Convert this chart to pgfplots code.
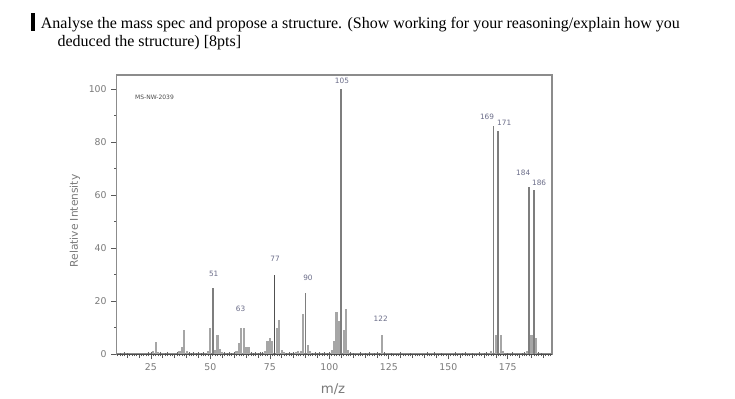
\documentclass[border=0pt]{standalone}
\usepackage{fontspec}
\setmainfont{Liberation Serif}
\newfontfamily\chartfont{DejaVu Sans}
\usepackage{pgfplots}
\usepackage{pgfplotstable}
\pgfplotsset{compat=1.18}
\definecolor{framegray}{HTML}{8C8C8C}
\definecolor{txtgray}{HTML}{7A7A7A}
\definecolor{peakgray}{HTML}{7E7E7E}
\definecolor{darkpeak}{HTML}{505050}
\definecolor{lightpeak}{HTML}{A6A6A6}
\definecolor{lblcol}{HTML}{6A6C88}

\pgfplotstableread{
mz int
51 25
90 23
105 100
169 86
171 84
184 63
186 62
}\mainpeaks

\pgfplotstableread{
mz int
77 30
}\darkpeaks

\pgfplotstableread{
mz int
26 1.0
27 4.5
28 0.8
37 1.2
38 2.5
39 9
40 1
49 1
50 10
52 1.5
53 7
54 2
55 0.8
61 1.2
62 4
63 10
64 10
65 2.5
66 2.5
73 1.2
74 5
75 6
76 5
78 10
79 13
80 1.5
81 0.8
86 0.8
87 1
88 1
89 15
91 3.5
92 1.2
101 1.5
102 5
103 16
104 12.5
106 9
107 17
108 1.5
122 7
168 1.0
170 7
172 7
173 1
183 1.0
185 7
187 6
}\minorpeaks

\pgfplotstableread{
mz int
12 0.5
14 0.6
15 0.5
24 0.6
25 0.7
29 0.6
31 0.5
32 0.6
36 0.7
41 0.6
42 0.5
43 0.7
44 0.5
45 0.6
46 0.5
47 0.6
56 0.6
57 0.5
58 0.6
59 0.5
60 0.7
67 0.6
68 0.5
69 0.6
70 0.5
71 0.6
72 0.7
82 0.5
83 0.6
84 0.5
85 0.6
93 0.5
94 0.6
95 0.5
96 0.6
97 0.5
98 0.6
99 0.5
100 0.6
109 0.6
110 0.5
113 0.6
115 0.5
117 0.6
119 0.5
120 0.6
121 0.5
123 0.6
126 0.5
130 0.6
134 0.5
141 0.6
144 0.6
147 0.5
153 0.6
156 0.5
157 0.6
160 0.5
163 0.6
165 0.5
166 0.6
175 0.5
177 0.6
181 0.5
182 0.6
188 0.6
189 0.5
}\tinypeaks

\begin{document}
\begin{tikzpicture}
\fill[white] (0,0) rectangle (551.25pt,-299.25pt);
\useasboundingbox (0,0) rectangle (551.25pt,-299.25pt);
\fill[black] (23.6pt,-9.75pt) rectangle (25.9pt,-23.25pt);
\node[anchor=base west, inner sep=0, font=\fontsize{12}{14}\selectfont] at (30.5pt,-21.2pt) {Analyse the mass spec and propose a structure. (Show working for your reasoning/explain how you};
\node[anchor=base west, inner sep=0, font=\fontsize{12}{14}\selectfont] at (43pt,-35pt) {deduced the structure) [8pts]};
\begin{axis}[
  at={(87.5pt,-265.5pt)}, anchor=south west,
  scale only axis, width=326.5pt, height=209.25pt,
  xmin=10.6, xmax=193.6, ymin=0, ymax=105.3,
  axis line style={framegray, line width=0.9pt},
  xtick={25,50,...,175}, minor xtick={11,12,...,193},
  extra x ticks={15,20,30,35,40,45,55,60,65,70,80,85,90,95,105,110,115,120,130,135,140,145,155,160,165,170,180,185,190},
  extra x tick labels={},
  extra x tick style={major tick length=3pt},
  ytick={0,20,...,100}, minor ytick={10,30,...,90},
  xtick pos=bottom, ytick pos=left, tick align=outside,
  major tick length=4pt, minor tick length=1.8pt,
  tick style={black!65, line width=0.5pt},
  ticklabel style={font=\chartfont\fontsize{7}{8}\selectfont, text=txtgray},
  /pgf/number format/assume math mode=true,
  clip=false,
]
\addplot[ycomb, lightpeak, line width=1.6pt, mark=none] table[x=mz, y=int] {\minorpeaks};
\addplot[ycomb, black!60, line width=0.5pt, mark=none] table[x=mz, y=int] {\tinypeaks};
\addplot[ycomb, peakgray, line width=1.3pt, mark=none] table[x=mz, y=int] {\mainpeaks};
\addplot[ycomb, darkpeak, line width=1.3pt, mark=none] table[x=mz, y=int] {\darkpeaks};
\draw[black!70, line width=0.7pt] (axis cs:10.6,0) -- (axis cs:193.6,0);
\begin{scope}[every node/.style={font=\chartfont\fontsize{5.5}{6}\selectfont, text=lblcol, inner sep=0pt}]
\node at (axis cs:51.4,30.2) {51};
\node at (axis cs:62.7,17.0) {63};
\node at (axis cs:77.2,35.8) {77};
\node at (axis cs:91.0,28.7) {90};
\node at (axis cs:105.3,103.0) {105};
\node at (axis cs:121.6,13.2) {122};
\node at (axis cs:166.3,89.4) {169};
\node at (axis cs:173.5,87.2) {171};
\node at (axis cs:181.5,68.3) {184};
\node at (axis cs:188.2,64.5) {186};
\node[font=\chartfont\fontsize{4.5}{5}\selectfont, text=black!70] at (axis cs:26.5,97.0) {MS-NW-2039};
\end{scope}
\end{axis}
\node[font=\chartfont\fontsize{10}{12}\selectfont, text=txtgray] at (249.75pt,-291.75pt) {m/z};
\node[font=\chartfont\fontsize{8}{10}\selectfont, text=txtgray, rotate=90] at (56.25pt,-165.75pt) {Relative Intensity};
\end{tikzpicture}
\end{document}
